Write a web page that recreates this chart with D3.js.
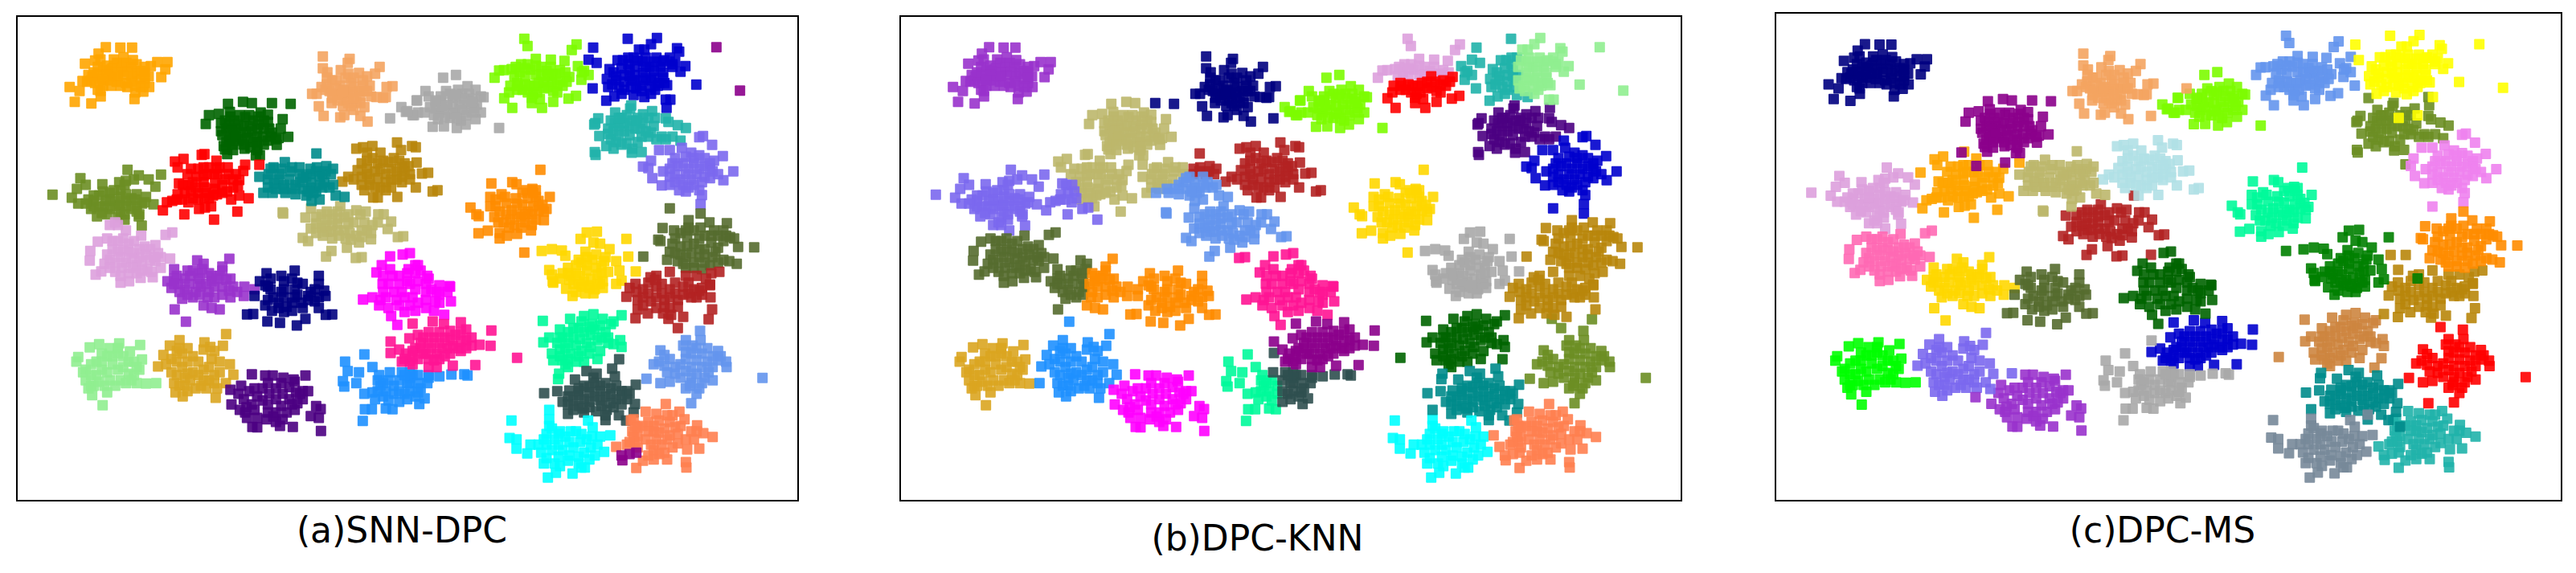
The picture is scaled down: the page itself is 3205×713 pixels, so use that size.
<!DOCTYPE html>
<html><head><meta charset="utf-8">
<script src="https://cdn.jsdelivr.net/npm/d3@7/dist/d3.min.js"></script>
<style>html,body{margin:0;padding:0;background:#fff}svg{display:block}</style>
</head><body><svg id="chart" width="3205" height="713"></svg>
<script>
// Point readings, grouped by cluster (arbitrary picture units shared by all three panels)
const p1=[[395,176],[449,178],[493,178],[368,200],[317,238],[260,325],[297,340],[279,380],[341,386],[376,360],[365,335],[502,370],[535,342],[557,325],[602,288],[617,259],[625,232],[587,232],[563,247],[496,224],[461,214],[425,222],[355,226],[375,222],[308,302],[340,300],[350,270],[385,260],[420,255],[455,250],[490,250],[525,265],[555,285],[540,310],[505,320],[470,310],[435,305],[400,300],[370,295],[345,285],[385,320],[420,285],[460,280],[495,285],[525,295],[440,268],[475,325],[405,265],[365,250],[400,245],[437,235],[472,235],[510,240],[540,270],[330,280],[365,280],[400,280],[440,285],[478,268],[510,275],[540,290],[325,305],[355,310],[385,300],[415,320],[450,320],[490,305],[525,325],[505,345],[375,340],[540,250]];
const p2=[[851,388],[907,380],[940,385],[780,430],[768,463],[817,425],[858,418],[915,437],[973,420],[1000,428],[1055,445],[1048,480],[1076,511],[1033,541],[1040,515],[970,580],[955,580],[913,555],[870,560],[840,558],[848,575],[845,530],[825,490],[960,560],[840,450],[875,450],[910,470],[945,450],[985,450],[1005,480],[980,510],[945,530],[905,520],[870,505],[845,480],[880,480],[920,495],[960,480],[1010,510],[985,540],[935,550],[890,525],[855,525],[960,510],[825,460],[860,435],[895,430],[930,430],[965,435],[1000,455],[855,465],[890,465],[930,470],[965,465],[830,505],[865,490],[900,495],[940,490],[985,480],[1015,495],[860,520],[880,510],[925,515],[960,530],[1000,525],[835,545],[870,540],[910,540],[960,550],[1030,520]];
const p2b=[[1015,385],[1085,388]];
const p3=[[1205,211],[1305,220],[1298,235],[1205,255],[1417,250],[1272,262],[1222,270],[1465,322],[1443,325],[1165,350],[1182,350],[1190,397],[1208,433],[1270,438],[1285,430],[1345,433],[1372,454],[1440,362],[1430,365],[1405,362],[1238,385],[1400,275],[1200,325],[1240,300],[1230,340],[1260,355],[1300,275],[1340,272],[1370,285],[1380,320],[1385,360],[1360,400],[1320,410],[1280,395],[1310,310],[1340,340],[1300,350],[1270,320],[1330,380],[1240,365],[1220,315],[1290,375],[1360,340],[1220,290],[1255,300],[1290,290],[1320,290],[1355,300],[1215,335],[1250,330],[1285,335],[1320,325],[1355,320],[1240,350],[1275,355],[1315,345],[1345,360],[1370,340],[1260,375],[1300,385],[1345,385],[1310,395],[1280,340],[1320,365]];
const p3b=[[1456,442]];
const p4=[[1498,400],[1515,418],[1555,375],[1545,430],[1654,290],[1702,280],[1557,375],[1560,420],[1540,430],[1520,415],[1863,478],[1615,473],[1657,472],[1705,478],[1738,465],[1795,360],[1805,363],[1775,335],[1745,322],[1600,360],[1795,420],[1775,445],[1630,380],[1665,340],[1710,335],[1750,350],[1780,390],[1760,420],[1720,450],[1680,440],[1640,420],[1605,400],[1670,390],[1715,390],[1645,360],[1745,390],[1700,420],[1620,430],[1585,420],[1690,365],[1655,410],[1625,405],[1645,375],[1680,350],[1725,350],[1765,370],[1690,395],[1730,370],[1650,395],[1725,410],[1690,425],[1660,435],[1740,430],[1770,405],[1760,380],[1625,375],[1705,440],[1635,445],[1700,355]];
const p4b=[[1588,340]];
const p5a=[[1957,145],[1969,172],[2152,166],[2134,187],[2000,220],[2056,223],[2107,227],[1945,240],[1863,263],[1881,262],[1910,258],[1846,290],[1970,240],[2020,250],[2055,250],[2090,262],[1940,270],[1980,260],[2000,280],[1925,250],[1960,255],[2000,245],[2040,265],[2075,275],[1920,285],[1960,285],[2020,280],[2060,280],[2110,270]];
const p5b=[[2157,247],[2172,270],[2170,298],[2197,280],[2180,265]];
const p5c=[[2125,287],[2045,285],[1905,320],[1900,345],[1882,367],[1912,403],[1985,385],[2023,403],[2065,380],[2122,368],[2150,358],[2100,320],[2065,340],[2030,330],[1990,350],[1950,335],[1975,320],[2010,310],[2060,305],[2090,300],[1930,310],[1935,320],[1960,315],[1995,320],[2030,305],[2080,315],[2115,305],[1970,345],[2005,345],[2045,325],[2080,345],[1930,335],[2015,370],[1985,365]];
const p6a=[[2214,178],[2227,235],[2275,258],[2265,295],[2270,325],[2293,360],[2305,225],[2325,225],[2343,145],[2300,300],[2330,280],[2360,300],[2310,325],[2350,260],[2365,215],[2365,355],[2405,362],[2345,215],[2290,270],[2320,255],[2345,240],[2300,285],[2330,305],[2350,285],[2285,315],[2330,335],[2355,325],[2370,280],[2320,350]];
const p6b=[[2212,330],[2197,223]];
const p6c=[[2263,376]];
const p6d=[[2452,142],[2430,165],[2527,180],[2535,193],[2385,185],[2405,185],[2558,247],[2540,268],[2599,316],[2502,372],[2490,318],[2450,215],[2500,215],[2520,230],[2425,250],[2465,250],[2400,230],[2380,225],[2440,290],[2475,290],[2410,290],[2425,325],[2455,320],[2400,270],[2430,350],[2370,250],[2370,300],[2390,320],[2395,340],[2410,250],[2440,230],[2475,230],[2510,240],[2410,215],[2440,265],[2475,270],[2430,300],[2460,310],[2400,300],[2480,310],[2510,250],[2375,330],[2445,335],[2480,225]];
const p6e=[[2674,176],[2762,338]];
const p6f=[[2485,372]];
const p6g=[[2488,403]];
const p7=[[2356,394],[2352,405],[2296,420],[2233,442],[2222,460],[2218,465],[2237,508],[2220,568],[2223,578],[2263,545],[2290,555],[2358,570],[2395,568],[2434,415],[2400,427],[2485,442],[2495,455],[2530,467],[2560,478],[2485,520],[2450,520],[2420,510],[2280,450],[2320,440],[2360,450],[2400,460],[2290,490],[2330,490],[2370,480],[2410,490],[2300,530],[2340,535],[2380,530],[2280,520],[2330,460],[2440,470],[2295,460],[2340,430],[2380,440],[2420,440],[2270,480],[2310,470],[2350,470],[2390,480],[2270,500],[2310,505],[2350,505],[2395,510],[2320,540],[2360,555],[2430,495],[2470,510],[2510,510],[2310,440]];
const p7b=[[2375,450],[2445,440]];
const p7c=[[2540,525]];
const p8=[[2610,512],[2624,508],[2658,541],[2698,583],[2737,640],[2700,673],[2680,650],[2430,600],[2420,628],[2435,665],[2470,692],[2500,690],[2560,715],[2620,728],[2615,762],[2545,552],[2460,560],[2500,560],[2665,600],[2650,665],[2510,610],[2550,610],[2590,610],[2630,620],[2475,640],[2520,650],[2560,650],[2600,650],[2630,660],[2550,690],[2590,690],[2520,680],[2630,590],[2580,570],[2520,590],[2560,585],[2610,580],[2650,610],[2530,620],[2570,630],[2610,630],[2650,630],[2540,670],[2580,670],[2620,680],[2570,700],[2610,710],[2535,710],[2500,630],[2500,660],[2590,590],[2660,640]];
const p8b=[[2400,622]];
const p9=[[476,634],[518,655],[555,670],[580,697],[196,727],[268,738],[300,665],[320,690],[287,705],[292,760],[382,688],[445,680],[500,670],[470,675],[573,763],[518,808],[529,842],[465,820],[362,808],[340,780],[545,735],[510,725],[330,745],[370,730],[410,720],[450,710],[490,740],[530,760],[490,780],[450,790],[410,780],[370,770],[430,750],[470,750],[510,770],[395,750],[445,765],[350,750],[350,730],[385,715],[425,710],[465,690],[470,725],[505,745],[540,755],[350,770],[390,770],[430,770],[470,770],[510,790],[400,800],[440,810],[465,800],[380,795],[410,745],[450,735],[520,800],[320,760]];
const p9b=[[601,652]];
const p10a=[[668,685],[683,690],[713,715],[663,725],[643,750],[623,755],[608,785],[703,755],[688,800],[743,780],[765,775],[799,820],[690,720],[680,745],[720,740],[660,745],[705,690]];
const p10b=[[653,603],[685,593],[763,575],[808,600],[663,625],[713,630],[908,638],[968,615],[773,650],[813,650],[853,650],[893,672],[888,692],[893,730],[928,740],[886,790],[863,745],[848,715],[788,770],[803,685],[763,740],[733,660],[763,700],[830,690],[795,730],[740,720],[700,650],[740,630],[780,625],[820,625],[850,625],[800,650],[760,655],[720,680],[760,680],[800,705],[840,670],[870,670],[870,700],[730,700],[780,740],[810,725],[830,720],[740,745],[770,720],[760,625],[880,650]];
const p10c=[[753,578],[915,615],[808,628]];
const p11a=[[983,720],[968,660],[1021,625],[1063,605],[1118,625],[1003,650],[1043,650],[1083,640],[1023,685],[1000,670],[1040,670],[1080,670],[1010,630],[1050,630],[1090,625],[1120,650],[1060,690],[1000,700],[1030,705]];
const p11b=[[1181,573],[1158,630],[1183,625],[1218,620],[1243,630],[1203,650],[1160,650],[1215,640],[1180,640],[1235,650]];
const p11c=[[1018,720],[1058,705],[1103,690],[1143,660],[1193,660],[1243,690],[1253,730],[1286,735],[1193,745],[1103,725],[1143,730],[1163,700],[1203,700],[1163,750],[1120,680],[1160,680],[1210,680],[1090,705],[1130,705],[1180,715],[1230,700],[1130,665],[1170,720],[1150,715],[1195,690],[1065,720]];
const p12=[[1482,532],[1330,555],[1355,550],[1390,545],[1538,545],[1552,550],[1497,560],[1555,607],[1278,678],[1300,660],[1552,700],[1483,735],[1410,737],[1360,710],[1575,648],[1598,645],[1615,715],[1633,710],[1350,610],[1390,590],[1430,600],[1470,590],[1510,610],[1530,650],[1500,680],[1460,700],[1420,700],[1380,690],[1350,660],[1320,670],[1400,640],[1440,650],[1480,640],[1510,640],[1420,570],[1370,570],[1370,600],[1410,610],[1450,605],[1490,600],[1525,620],[1370,630],[1420,630],[1460,630],[1500,625],[1370,650],[1410,665],[1460,670],[1500,660],[1530,670],[1380,670],[1440,680],[1480,670],[1400,700],[1440,710],[1335,635],[1350,690]];
const p12b=[[1393,737]];
const p13=[[1140,812],[1160,853],[1130,888],[1150,900],[1217,958],[1237,937],[1295,925],[1485,885],[1505,882],[1460,827],[1432,800],[1412,800],[1270,770],[1330,785],[1365,790],[1447,855],[1385,893],[1340,905],[1200,800],[1240,800],[1285,810],[1320,830],[1200,850],[1240,840],[1285,860],[1330,880],[1370,860],[1410,830],[1240,890],[1290,890],[1180,870],[1220,865],[1360,830],[1260,835],[1180,810],[1220,790],[1260,790],[1300,800],[1345,800],[1220,820],[1260,815],[1300,835],[1180,835],[1215,840],[1260,860],[1305,870],[1350,860],[1390,840],[1235,865],[1205,880],[1265,880],[1310,895],[1350,885],[1385,870]];
const p13b=[[1161,778],[1055,793],[1057,797]];
const p13c=[[1328,963],[1350,960]];
const p14=[[643,868],[618,877],[527,880],[365,902],[337,937],[335,973],[357,1025],[378,1013],[450,1055],[482,1050],[525,1037],[570,1035],[580,915],[635,965],[600,1000],[420,900],[460,890],[500,900],[540,920],[590,945],[560,970],[520,960],[480,940],[440,940],[400,950],[430,980],[470,980],[510,990],[550,1005],[480,1020],[430,1015],[390,985],[580,975],[400,890],[440,900],[480,910],[520,930],[560,930],[420,930],[460,930],[500,945],[545,950],[410,970],[450,960],[490,965],[530,975],[575,960],[455,1000],[495,1000],[530,1010],[410,1000],[450,1030],[510,1020],[565,1015],[600,960]];
const p14b=[[410,840],[440,840],[430,830],[470,860]];
const p15a=[[736,972],[760,985],[650,1005],[700,1010],[625,1050],[650,1040],[690,1040],[740,1020],[652,1155],[680,1115],[720,1110],[640,1075],[690,1080],[750,1070],[730,1090],[660,1030],[710,1030],[745,1040],[665,1060],[705,1060],[740,1060],[670,1090],[700,1100],[745,1100],[650,1060],[720,1010],[755,1005]];
const p15b=[[856,966],[830,995],[780,1020],[820,1030],[860,1040],[790,1050],[912,1070],[950,1080],[820,1155],[790,1150],[760,1140],[860,1110],[910,1105],[885,1090],[800,1110],[830,1070],[780,1090],[790,1030],[830,1010],[845,1045],[800,1070],[770,1060],[870,1070],[775,1110],[830,1100],[810,1040],[855,1085]];
const p15c=[[694,1201]];
const p16=[[995,1020],[1100,1010],[1190,1030],[970,1050],[1060,1050],[1190,1060],[990,1065],[1110,1055],[922,1174],[945,1172],[998,1200],[1045,1205],[1108,1215],[1140,1190],[1216,1175],[1240,1174],[1190,1150],[1215,1105],[950,1105],[1000,1070],[1050,1090],[1100,1080],[1160,1090],[1190,1110],[990,1140],[1040,1130],[1090,1130],[1130,1150],[1060,1165],[1150,1120],[1015,1160],[1010,1040],[1050,1030],[1090,1040],[1130,1060],[1175,1080],[1010,1080],[1060,1080],[1110,1100],[1020,1110],[1060,1110],[1100,1110],[1150,1105],[1040,1150],[1090,1160],[1000,1120],[1125,1130],[1175,1125],[1070,1145],[1210,1085]];
const p17=[[1503,950],[1530,945],[1425,990],[1405,1017],[1456,1005],[1525,1005],[1428,1060],[1490,1030],[1550,990],[1560,990],[1570,1010],[1595,1030],[1678,1068],[1640,1065],[1560,1050],[1520,1050],[1680,1070],[1683,1125],[1658,1175],[1620,1160],[1550,1160],[1590,1120],[1540,1110],[1610,1080],[1355,1118],[1390,1110],[1415,1140],[1483,1213],[1460,1180],[1430,1090],[1480,1120],[1510,1165],[1430,1030],[1465,1030],[1520,1020],[1550,1020],[1590,1060],[1630,1090],[1450,1060],[1490,1060],[1530,1060],[1590,1090],[1640,1100],[1440,1110],[1500,1090],[1550,1080],[1450,1150],[1490,1140],[1530,1140],[1590,1150],[1640,1130],[1510,1110],[1560,1130],[1470,1090],[1600,1040],[1625,1125],[1670,1090],[1420,1120]];
const p17b=[[1456,957]];
const p18=[[2017,634],[1834,685],[1912,680],[1928,688],[1756,775],[1778,800],[1787,807],[1786,871],[1821,861],[1865,870],[1865,890],[1892,880],[1930,873],[1982,860],[2052,735],[2040,780],[2030,822],[1987,705],[2000,710],[1830,735],[1872,725],[1850,770],[1890,760],[1930,760],[1970,740],[2010,750],[2030,790],[2000,820],[1960,830],[1920,840],[1880,830],[1845,810],[1890,800],[1930,800],[1970,790],[2010,785],[1950,720],[1850,745],[1885,735],[1925,740],[1965,710],[2000,735],[1865,790],[1910,785],[1950,765],[1990,770],[2025,765],[1905,820],[1945,810],[1985,800],[1860,830],[1900,850],[1945,850],[1985,840],[1990,720],[1960,800],[1830,770]];
const p18b=[[1957,943]];
const p19=[[2228,865],[2190,868],[2167,892],[2338,892],[2215,905],[2240,910],[2022,937],[2060,930],[2097,935],[2110,955],[2275,930],[2185,940],[2050,1008],[2063,1050],[2300,975],[2312,1010],[2320,1048],[2300,1060],[2160,970],[2120,1000],[2170,980],[2210,970],[2245,990],[2190,1010],[2230,1025],[2150,1020],[2100,1020],[2180,1050],[2230,1060],[2140,1060],[2250,1050],[2260,960],[2137,1105],[2113,1078],[2185,1095],[2220,1080],[2170,1070],[2240,1060],[2065,1055],[2190,960],[2225,950],[2150,990],[2190,990],[2225,1000],[2130,1030],[2165,1030],[2205,1040],[2245,1020],[2125,1045],[2160,1060],[2200,1075],[2250,1075],[2120,1020],[2195,1065],[2270,1015],[2150,1090],[2215,1095],[2255,975],[2090,1040],[2060,1025]];
const p19b=[[2345,958],[2373,1013]];
const p19c=[[2401,958]];
const p20=[[2570,822],[2713,833],[2648,830],[2815,923],[2473,851],[2457,895],[2465,900],[2516,860],[2755,922],[2750,985],[2722,975],[2740,890],[2570,850],[2665,860],[2490,970],[2560,1000],[2540,870],[2590,860],[2630,880],[2680,880],[2710,880],[2540,920],[2590,910],[2630,930],[2500,940],[2560,960],[2610,960],[2660,960],[2700,970],[2590,1000],[2650,990],[2510,910],[2530,975],[2680,925],[2560,860],[2615,850],[2655,880],[2700,860],[2565,885],[2610,890],[2655,905],[2700,900],[2565,920],[2610,930],[2520,945],[2540,950],[2580,945],[2630,950],[2670,940],[2590,980],[2630,980],[2680,980],[2550,985],[2620,1005],[2520,890],[2725,885]];
const p20b=[[2500,778]];
const p20c=[[2615,797]];
const p21=[[2685,1015],[2655,1020],[2635,1040],[2650,1062],[2428,1035],[2450,1030],[2500,1015],[2372,1060],[2350,1075],[2560,1030],[2600,1030],[2372,1188],[2418,1170],[2338,1108],[2650,1065],[2652,1110],[2658,1155],[2550,1183],[2505,1175],[2380,1155],[2620,1100],[2400,1080],[2450,1070],[2500,1080],[2550,1070],[2590,1080],[2380,1120],[2430,1125],[2480,1120],[2530,1120],[2580,1110],[2500,1150],[2450,1150],[2600,1110],[2375,1090],[2420,1095],[2470,1095],[2520,1095],[2570,1095],[2610,1085],[2400,1110],[2450,1110],[2500,1110],[2550,1100],[2400,1140],[2480,1145],[2420,1055],[2520,1055],[2470,1060],[2570,1055],[2620,1075],[2530,1145],[2475,1170]];
const p21b=[[2645,1192],[2495,1190]];
const p21c=[[2530,1225]];
const p21d=[[2445,1045]];
const p22=[[1834,1234],[1831,1291],[1774,1363],[1690,1365],[1720,1203],[1790,1287],[1540,1208],[1615,1200],[1657,1210],[1600,1370],[1528,1263],[1560,1250],[1500,1350],[1740,1230],[1580,1260],[1620,1260],[1660,1260],[1700,1250],[1740,1270],[1570,1300],[1610,1300],[1650,1300],[1690,1290],[1740,1300],[1560,1340],[1600,1340],[1640,1340],[1680,1320],[1630,1370],[1530,1350],[1550,1300],[1720,1310],[1490,1305],[1510,1340],[1540,1310],[1540,1360],[1600,1240],[1640,1240],[1680,1235],[1720,1240],[1760,1260],[1600,1280],[1640,1280],[1680,1270],[1720,1275],[1760,1290],[1590,1320],[1630,1320],[1670,1300],[1710,1300],[1620,1345],[1660,1330],[1580,1320],[1570,1280],[1540,1330],[1515,1320]];
const p22b=[[1458,1275]];
const p22c=[[1458,1318]];
const p22d=[[1930,1336]];
const p23=[[2026,1198],[2128,1190],[2215,1173],[2180,1180],[2250,1190],[2290,1200],[2280,1210],[2315,1270],[2320,1295],[2140,1225],[2090,1230],[2050,1260],[2060,1320],[2065,1345],[2120,1370],[2028,1278],[2100,1260],[2140,1260],[2180,1240],[2220,1230],[2260,1240],[2270,1280],[2230,1270],[2190,1280],[2150,1290],[2110,1300],[2080,1280],[2120,1340],[2160,1330],[2200,1320],[2230,1340],[2090,1330],[2150,1350],[2290,1285],[2120,1240],[2160,1225],[2200,1220],[2240,1215],[2120,1280],[2165,1265],[2205,1250],[2245,1260],[2090,1260],[2090,1305],[2130,1320],[2170,1310],[2205,1295],[2240,1310],[2180,1350],[2110,1360],[2270,1260],[2100,1345],[2170,1200],[2210,1210]];
const p23b=[[2320,1177]];
const p23c=[[2087,1395],[2083,1415]];
const p23d=[[2311,1341]];
const p23e=[[2285,1376]];
const p24=[[2613,1235],[2580,1505],[2413,1414],[2465,1308],[2560,1270],[2615,1270],[2440,1360],[2690,1330],[2710,1350],[2712,1370],[2660,1420],[2465,1430],[2500,1425],[2550,1290],[2846,1411],[2460,1350],[2500,1340],[2540,1360],[2580,1320],[2620,1320],[2660,1330],[2580,1370],[2620,1370],[2660,1370],[2540,1410],[2580,1410],[2630,1410],[2560,1450],[2610,1450],[2490,1390],[2480,1325],[2480,1365],[2520,1370],[2560,1340],[2600,1300],[2640,1300],[2680,1310],[2600,1345],[2640,1350],[2680,1345],[2560,1385],[2600,1395],[2645,1390],[2580,1430],[2620,1430],[2520,1395],[2585,1290],[2560,1315],[2575,1440],[2600,1470]];
const p25=[[2189,1385],[2227,1395],[2146,1417],[2373,1436],[2031,1468],[2080,1460],[2125,1458],[2295,1405],[2215,1410],[2370,1508],[2365,1540],[2337,1570],[2260,1568],[2120,1545],[2180,1540],[2310,1550],[2160,1450],[2200,1445],[2240,1440],[2280,1450],[2320,1460],[2100,1500],[2140,1495],[2180,1490],[2220,1480],[2260,1480],[2300,1490],[2340,1490],[2140,1530],[2200,1520],[2245,1515],[2290,1520],[2180,1440],[2220,1430],[2260,1430],[2300,1440],[2340,1460],[2160,1475],[2200,1465],[2240,1460],[2280,1470],[2320,1475],[2120,1480],[2120,1510],[2160,1515],[2200,1500],[2240,1495],[2280,1505],[2320,1510],[2160,1460],[2175,1525],[2225,1535],[2265,1530],[2350,1470]];
const p25b=[[2260,1550]];
const p26=[[2410,1537],[2450,1545],[2490,1550],[2536,1537],[2555,1565],[2602,1588],[2625,1617],[2660,1631],[2610,1675],[2565,1678],[2560,1725],[2562,1745],[2375,1747],[2490,1715],[2300,1668],[2340,1660],[2355,1570],[2360,1610],[2400,1590],[2440,1590],[2480,1600],[2520,1595],[2370,1650],[2410,1640],[2450,1640],[2530,1655],[2590,1640],[2440,1680],[2480,1690],[2400,1720],[2440,1715],[2540,1590],[2370,1590],[2420,1575],[2460,1570],[2500,1575],[2380,1630],[2420,1610],[2460,1615],[2500,1625],[2440,1610],[2365,1630],[2430,1660],[2470,1660],[2460,1695],[2420,1700],[2380,1670],[2510,1670],[2560,1640],[2600,1610],[2580,1610],[2490,1640],[2530,1620],[2350,1650],[2365,1565],[2510,1550]];
const p26b=[[2485,1508]];
const p26c=[[2380,1595]];
const p26d=[[2320,1700],[2323,1718],[2375,1690],[2350,1695]];
const p27=[[1909,1570],[1902,1635],[1928,1640],[1928,1675],[1980,1660],[1968,1693],[2195,1570],[2255,1687],[2045,1783],[2137,1768],[2075,1765],[2183,1745],[2050,1565],[2212,1595],[2030,1640],[2070,1640],[2110,1630],[2150,1610],[2190,1640],[2230,1660],[2020,1690],[2060,1680],[2100,1680],[2140,1670],[2180,1690],[2220,1700],[2030,1730],[2070,1730],[2120,1720],[2160,1730],[2040,1620],[2090,1610],[2130,1610],[2170,1620],[2210,1630],[2040,1660],[2085,1660],[2125,1650],[2165,1650],[2205,1670],[2040,1710],[2085,1705],[2125,1700],[2160,1705],[2200,1715],[2010,1660],[2240,1630],[2085,1620],[2060,1600],[2090,1740],[2170,1745],[2050,1590]];
const p27b=[[2050,1530]];
const p27c=[[2278,1625]];
const p28a=[[1360,1323],[1288,1350],[1298,1385],[1280,1423],[1285,1443],[1340,1390],[1390,1370],[1354,1571],[1362,1528],[1388,1528],[1440,1525],[1465,1528],[1330,1430],[1360,1470],[1415,1400],[1430,1430],[1470,1440],[1430,1480],[1400,1490],[1420,1440],[1450,1420],[1440,1460],[1470,1470],[1410,1420],[1410,1460],[1450,1495],[1390,1465]];
const p28b=[[1455,1390],[1500,1390],[1540,1400],[1510,1470],[1530,1430],[1733,1397],[1745,1402],[1685,1398],[1640,1405],[1585,1487],[1565,1508],[1595,1430],[1520,1430],[1520,1490],[1560,1400],[1530,1390],[1570,1450],[1490,1420],[1490,1460],[1530,1410],[1530,1460],[1560,1430],[1600,1410],[1490,1500],[1550,1480],[1600,1400],[1560,1465],[1510,1400]];
const p29=[[370,1285],[335,1297],[445,1282],[523,1288],[485,1312],[408,1300],[292,1333],[285,1350],[530,1342],[383,1513],[344,1475],[330,1450],[400,1465],[545,1432],[320,1380],[360,1350],[400,1330],[440,1320],[480,1350],[520,1380],[510,1430],[470,1430],[430,1440],[390,1440],[350,1440],[310,1390],[360,1400],[400,1390],[440,1380],[480,1395],[340,1360],[380,1350],[420,1330],[460,1330],[500,1350],[510,1370],[340,1400],[380,1380],[420,1360],[460,1370],[500,1400],[340,1440],[370,1425],[410,1420],[450,1420],[490,1420],[320,1420],[380,1320],[440,1300]];
const p29b=[[583,1430]];
const p30=[[844,1247],[670,1270],[763,1278],[832,1291],[634,1290],[610,1325],[590,1368],[858,1360],[871,1399],[843,1430],[655,1465],[682,1480],[785,1295],[640,1340],[680,1320],[720,1330],[790,1340],[820,1350],[640,1390],[680,1370],[720,1390],[760,1380],[800,1400],[650,1430],[690,1440],[730,1450],[770,1450],[810,1450],[760,1420],[690,1410],[660,1310],[700,1300],[760,1305],[800,1310],[660,1350],[700,1350],[740,1350],[780,1370],[820,1390],[660,1400],[700,1395],[740,1400],[780,1420],[670,1440],[710,1420],[750,1440],[700,1460],[670,1300],[620,1360],[800,1430]];
const p30b=[[805,1485]];
const p31=[[990,1402],[1018,1402],[1058,1410],[1140,1402],[1096,1417],[1150,1460],[864,1510],[895,1530],[922,1560],[942,1594],[960,1595],[1045,1590],[1093,1594],[1198,1609],[1160,1553],[1197,1527],[1180,1516],[1190,1560],[995,1565],[890,1470],[930,1460],[980,1450],[1030,1450],[1080,1445],[1120,1470],[940,1510],[980,1495],[1030,1490],[1080,1490],[1130,1490],[1030,1540],[1070,1540],[920,1520],[1030,1575],[1100,1530],[900,1440],[950,1450],[1000,1430],[1050,1430],[1100,1425],[910,1490],[960,1480],[1005,1470],[1055,1470],[1105,1465],[1000,1510],[1050,1515],[1090,1510],[950,1530],[1000,1540],[1055,1565],[1130,1460],[1110,1505],[1020,1555],[960,1560],[915,1540]];
const p31b=[[940,1397],[860,1455]];

// Cluster label each algorithm gave each group: [points, SNN-DPC, DPC-KNN, DPC-MS]
const assignments=[
[p1,'orange','darkorchid','navy'],[p2,'darkgreen','darkkhaki','darkmagenta'],[p2b,'darkgreen','navy','darkmagenta'],
[p3,'sandybrown','navy','sandybrown'],[p3b,'darkgray','navy','sandybrown'],[p4,'darkgray','lawngreen','lawngreen'],[p4b,'darkgray','lawngreen','sandybrown'],
[p5a,'lawngreen','plum','cornflowerblue'],[p5b,'lawngreen','lightseagreen','cornflowerblue'],[p5c,'lawngreen','red','cornflowerblue'],
[p6a,'mediumblue','lightseagreen','yellow'],[p6b,'mediumblue','lightseagreen','cornflowerblue'],[p6c,'mediumblue','lightseagreen','olivedrab'],
[p6d,'mediumblue','lightgreen','yellow'],[p6e,'darkmagenta','lightgreen','yellow'],[p6f,'mediumblue','lightgreen','olivedrab'],[p6g,'mediumblue','indigo','olivedrab'],
[p7,'lightseagreen','indigo','olivedrab'],[p7b,'lightseagreen','indigo','yellow'],[p7c,'lightseagreen','mediumblue','olivedrab'],
[p8,'mediumslateblue','mediumblue','violet'],[p8b,'mediumslateblue','mediumblue','olivedrab'],
[p9,'olivedrab','mediumslateblue','plum'],[p9b,'olivedrab','mediumslateblue','orange'],
[p10a,'red','mediumslateblue','orange'],[p10b,'red','darkkhaki','orange'],[p10c,'red','darkkhaki','darkmagenta'],
[p11a,'darkcyan','darkkhaki','darkkhaki'],[p11b,'darkcyan','firebrick','darkkhaki'],[p11c,'darkcyan','cornflowerblue','darkkhaki'],
[p12,'darkgoldenrod','firebrick','powderblue'],[p12b,'darkgoldenrod','firebrick','firebrick'],
[p13,'darkkhaki','cornflowerblue','firebrick'],[p13b,'darkkhaki','cornflowerblue','darkkhaki'],[p13c,'darkkhaki','deeppink','firebrick'],
[p14,'plum','darkolivegreen','hotpink'],[p14b,'plum','mediumslateblue','plum'],
[p15a,'darkorchid','darkolivegreen','gold'],[p15b,'darkorchid','darkorange','gold'],[p15c,'darkorchid','dodgerblue','gold'],
[p16,'navy','darkorange','darkolivegreen'],[p17,'magenta','deeppink','darkgreen'],[p17b,'magenta','deeppink','firebrick'],
[p18,'darkorange','gold','mediumspringgreen'],[p18b,'darkorange','gold','green'],
[p19,'gold','darkgray','green'],[p19b,'gold','darkgray','darkgoldenrod'],[p19c,'darkolivegreen','darkgoldenrod','darkgoldenrod'],
[p20,'darkolivegreen','darkgoldenrod','darkorange'],[p20b,'darkolivegreen','mediumblue','violet'],[p20c,'darkolivegreen','mediumblue','darkorange'],
[p21,'firebrick','darkgoldenrod','darkgoldenrod'],[p21b,'firebrick','olivedrab','darkgoldenrod'],[p21c,'firebrick','olivedrab','red'],[p21d,'firebrick','darkgoldenrod','green'],
[p22,'deeppink','darkmagenta','mediumblue'],[p22b,'deeppink','darkmagenta','darkgray'],[p22c,'deeppink','darkslategray','mediumblue'],[p22d,'deeppink','darkgreen','peru'],
[p23,'mediumspringgreen','darkgreen','peru'],[p23b,'mediumspringgreen','darkgreen','darkgoldenrod'],[p23c,'mediumspringgreen','darkcyan','darkcyan'],[p23d,'darkslategray','darkgreen','peru'],[p23e,'darkslategray','darkcyan','peru'],
[p24,'cornflowerblue','olivedrab','red'],[p25,'darkslategray','darkcyan','darkcyan'],[p25b,'darkslategray','darkcyan','lightslategray'],
[p26,'coral','coral','lightseagreen'],[p26b,'coral','coral','red'],[p26c,'coral','coral','darkcyan'],[p26d,'darkmagenta','coral','lightseagreen'],
[p27,'cyan','cyan','lightslategray'],[p27b,'cyan','darkcyan','darkcyan'],[p27c,'cyan','coral','lightslategray'],
[p28a,'dodgerblue','mediumspringgreen','darkgray'],[p28b,'dodgerblue','darkslategray','darkgray'],
[p29,'lightgreen','goldenrod','lime'],[p29b,'lightgreen','dodgerblue','lime'],
[p30,'goldenrod','dodgerblue','mediumslateblue'],[p30b,'goldenrod','dodgerblue','darkorchid'],
[p31,'indigo','magenta','darkorchid'],[p31b,'indigo','magenta','mediumslateblue']];

// Which colours are painted last (on top) in each panel
const topA=['olivedrab','plum','red','darkkhaki','darkcyan','darkorchid','navy','magenta','deeppink','darkslategray','cyan','coral','darkmagenta'];
const topB=['darkkhaki','firebrick','cornflowerblue','mediumslateblue','darkolivegreen','darkorange','indigo','mediumblue','plum','red','lightseagreen','lightgreen','dodgerblue','magenta','mediumspringgreen','deeppink','darkslategray','darkmagenta','darkgray','darkgoldenrod'];
const topC=['firebrick','powderblue','darkkhaki','plum','orange','darkmagenta','hotpink','gold','darkolivegreen','olivedrab','violet','yellow','mediumblue','darkgreen','darkgray','lightseagreen','darkcyan','lightslategray','darkgoldenrod','darkorange','green','lawngreen','sandybrown'];

const panelTitles=['(a)SNN-DPC','(b)DPC-KNN','(c)DPC-MS'];
const panelColumns=[1,2,3];
const panelOrders=[topA,topB,topC];
const panelFrames=[{l:21,r:993,t:20,b:623,tx:500,ty:675},{l:1120,r:2092,t:20,b:623,tx:1564.5,ty:685},{l:2209,r:3187,t:16,b:623,tx:2690.5,ty:675}];
const xDomain=[63,2979],yDomain=[60,1869];
const markerSize=13;

const svg=d3.select('#chart');
panelTitles.forEach((title,i)=>{
  const f=panelFrames[i];
  const x=d3.scaleLinear().domain(xDomain).range([f.l,f.r]);
  const y=d3.scaleLinear().domain(yDomain).range([f.t,f.b]);
  const order=panelOrders[i];
  const rank=c=>order.indexOf(c);
  const rows=assignments.map(r=>({pts:r[0],colour:r[panelColumns[i]]}));
  const sorted=d3.sort(rows,(a,b)=>d3.ascending(rank(a.colour),rank(b.colour)));
  const g=svg.append('g');
  const groups=g.selectAll('g').data(sorted).join('g').attr('fill',d=>d.colour);
  groups.selectAll('rect').data(d=>d.pts).join('rect')
    .attr('x',d=>x(d[0])-markerSize/2).attr('y',d=>y(d[1])-markerSize/2)
    .attr('width',markerSize).attr('height',markerSize).attr('rx',1).attr('fill-opacity',0.9);
  g.append('rect').attr('x',f.l).attr('y',f.t).attr('width',f.r-f.l).attr('height',f.b-f.t)
    .attr('fill','none').attr('stroke','#000').attr('stroke-width',2);
  svg.append('text').attr('x',f.tx).attr('y',f.ty).attr('text-anchor','middle')
    .attr('font-family','"DejaVu Sans"').attr('font-size',44).attr('fill','#000').text(title);
});
</script></body></html>
